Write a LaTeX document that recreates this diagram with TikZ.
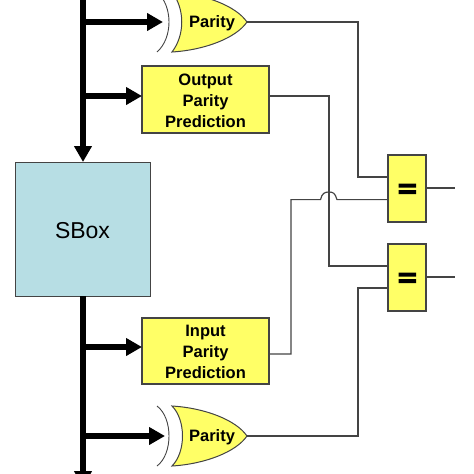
\documentclass[tikz,border=0pt]{standalone}
\usepackage{fontspec}
\setmainfont{Liberation Sans}
\usetikzlibrary{arrows.meta}
\definecolor{yel}{HTML}{FFFF66}
\definecolor{sb}{HTML}{B7DEE4}
\definecolor{wire}{HTML}{444444}
\newcommand{\firstline}{\rule{0pt}{14pt}}
\tikzset{
 every node/.style={inner sep=0pt,outer sep=0pt},
 ybox/.style={draw=wire,line width=1.2pt,fill=yel,minimum width=#1,align=center,font=\fontsize{16.5}{21}\selectfont\bfseries},
 sig/.style={draw=wire,line width=1.2pt},
 busline/.style={line width=6pt,-{Triangle[length=16pt,width=17pt]}},
 gate/.style={draw=wire,line width=1pt,fill=yel},
 backarc/.style={draw=wire,line width=.9pt},
 plabel/.style={font=\fontsize{16.5}{20}\selectfont\bfseries},
 eqbox/.style={draw=wire,line width=1.2pt,fill=yel}
}
\begin{document}
\begin{tikzpicture}[x=1pt,y=-1pt]
\useasboundingbox (0,0) rectangle (474,474);
\clip (0,0) rectangle (474,474);
% blocks
\node[draw=wire,line width=1pt,fill=sb,minimum width=135pt,minimum height=134pt,font=\fontsize{23}{23}\selectfont] (sbox) at (82.5,229) {\rule{0pt}{19pt}SBox};
\node[ybox=127pt,minimum height=67pt] (opp) at (205.5,99.5) {\firstline Output\\Parity\\Prediction};
\node[ybox=127pt,minimum height=66pt] (ipp) at (205.5,351) {\firstline Input\\Parity\\Prediction};
\node[eqbox,minimum width=38pt,minimum height=67pt] (eq1) at (407,188.5) {};
\node[eqbox,minimum width=38pt,minimum height=67pt] (eq2) at (407,277.5) {};
\fill[black] (398.5,183.5) rectangle (416,187.5) (398.5,190) rectangle (416,194);
\fill[black] (398.5,272.5) rectangle (416,276.5) (398.5,279) rectangle (416,283);
% gates
\path[gate] (172,52) .. controls (185,35) and (185,9) .. (172,-8) .. controls (205,-6) and (236,6) .. (247,22) .. controls (236,38) and (205,50) .. (172,52) -- cycle;
\draw[backarc] (157,52) .. controls (173,38) and (173,6) .. (157,-8);
\path[gate] (172,406) .. controls (186,420) and (186,452) .. (172,466) .. controls (205,464) and (236,452) .. (247,436) .. controls (236,420) and (205,408) .. (172,406) -- cycle;
\draw[backarc] (157,406) .. controls (173,418) and (173,454) .. (157,466);
\node[plabel] (g1) at (212,23) {Parity};
\node[plabel] (g2) at (212,437) {Parity};
% named points
\coordinate (top) at (83,-5);
\coordinate (botend) at (83,487);
\coordinate (j1) at (83,22);
\coordinate (j2) at (83,96);
\coordinate (j3) at (83,347);
\coordinate (j4) at (83,436);
\coordinate (g1in) at (163,22);
\coordinate (g2in) at (165,436);
\coordinate (g1out) at (247,22);
\coordinate (g2out) at (247,436);
\coordinate (o1) at (455,188);
\coordinate (o2) at (455,277);
\coordinate (h1) at (320.5,199.6);
\coordinate (h2) at (337,199.6);
% buses
\draw[busline] (top) -- (sbox.north -| top);
\draw[busline] (sbox.south -| top) -- (botend);
\draw[busline] (j1) -- (g1in);
\draw[busline] (j2) -- (j2 -| opp.west);
\draw[busline] (j3) -- (j3 -| ipp.west);
\draw[busline] (j4) -- (g2in);
% wires
\draw[sig] (g1out) -| (358,177) -- (eq1.west |- 0,177);
\draw[sig] (opp.east |- 0,96) -| (329,266) -- (eq2.west |- 0,266);
\draw[sig] (ipp.east |- 0,354) -| (291,199.6) -- (h1) .. controls (322,193) and (325,192) .. (329,192) .. controls (333,192) and (335,193) .. (h2) -- (eq1.west |- 0,199.6);
\draw[sig] (g2out) -| (358,288) -- (eq2.west |- 0,288);
\draw[sig] (eq1.east |- o1) -- (o1);
\draw[sig] (eq2.east |- o2) -- (o2);
\end{tikzpicture}
\end{document}
